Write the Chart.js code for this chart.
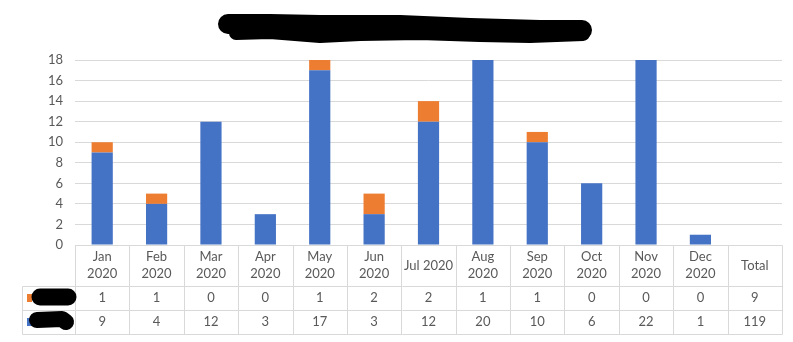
<!DOCTYPE html>
<html>
<head>
<meta charset="utf-8">
<script src="https://cdn.jsdelivr.net/npm/chart.js@4.4.1/dist/chart.umd.min.js"></script>
<style>
  html, body { margin: 0; padding: 0; background: #fff; }
  #wrap { width: 793px; height: 342px; }
</style>
</head>
<body>
<div id="wrap"><canvas id="grafico"></canvas></div>
<script>
// categorias (a ultima coluna "Total" so aparece na tabela)
const meses = [['Jan','2020'],['Feb','2020'],['Mar','2020'],['Apr','2020'],['May','2020'],['Jun','2020'],
               'Jul 2020',['Aug','2020'],['Sep','2020'],['Oct','2020'],['Nov','2020'],['Dec','2020'],'Total'];
const serieLaranja = [1, 1, 0, 0, 1, 2, 2, 1, 1, 0, 0, 0];
const serieAzul    = [9, 4, 12, 3, 17, 3, 12, 20, 10, 6, 22, 1];
const totalLaranja = 9;
const totalAzul = 119;
const ticksY = [0, 2, 4, 6, 8, 10, 12, 14, 16, 18];

const corAzul = '#4472c4';
const corLaranja = '#ed7d31';
const corGrade = '#d9d9d9';
const corTexto = '#595959';
const fonte = 'Lato, "Open Sans", sans-serif';

// linhas da tabela (laranja em cima, azul embaixo)
const linhasTabela = [
    { cor: corLaranja, valores: serieLaranja.concat([totalLaranja]) },
    { cor: corAzul,    valores: serieAzul.concat([totalAzul]) }
];

const tabelaPlugin = {
    id: 'tabela',
    afterDraw(chart) {
        const ctx = chart.ctx;
        const area = chart.chartArea;
        const x = chart.scales.x;
        const colW = (area.right - area.left) / meses.length;
        const esq = 22;
        const y0 = area.bottom;
        const y1 = y0 + 41, y2 = y1 + 24, y3 = y2 + 24;

        ctx.save();
        ctx.strokeStyle = corGrade;
        ctx.lineWidth = 1;
        const linha = (ax, ay, bx, by) => {
            ctx.beginPath();
            ctx.moveTo(Math.round(ax) + 0.5, Math.round(ay) + 0.5);
            ctx.lineTo(Math.round(bx) + 0.5, Math.round(by) + 0.5);
            ctx.stroke();
        };
        linha(area.left, y0, area.right, y0);
        linha(esq, y1, area.right, y1);
        linha(esq, y2, area.right, y2);
        linha(esq, y3, area.right, y3);
        linha(esq, y1, esq, y3);
        for (let i = 0; i <= meses.length; i++) {
            const px = area.left + i * colW;
            linha(px, y0, px, y3);
        }

        ctx.fillStyle = corTexto;
        ctx.font = '13px ' + fonte;
        ctx.textAlign = 'center';
        ctx.textBaseline = 'middle';
        meses.forEach((m, i) => {
            const cx = x.getPixelForValue(i);
            if (Array.isArray(m)) {
                ctx.fillText(m[0], cx, y0 + 12);
                ctx.fillText(m[1], cx, y0 + 29);
            } else {
                ctx.fillText(m, cx, y0 + 21);
            }
        });
        linhasTabela.forEach((l, r) => {
            const cy = (r == 0 ? y1 : y2) + 12;
            l.valores.forEach((v, i) => {
                ctx.fillText(String(v), x.getPixelForValue(i), cy);
            });
            // chave da legenda
            ctx.fillStyle = l.cor;
            ctx.fillRect(27, cy - 4, 5, 8);
            ctx.fillStyle = corTexto;
        });

        // borroes pretos (nomes riscados)
        ctx.strokeStyle = '#000';
        ctx.lineCap = 'round';
        ctx.lineJoin = 'round';
        const borrao = (pts, w) => {
            ctx.lineWidth = w;
            ctx.beginPath();
            ctx.moveTo(pts[0][0], pts[0][1]);
            for (let k = 1; k < pts.length; k++) ctx.lineTo(pts[k][0], pts[k][1]);
            ctx.stroke();
        };
        borrao([[40, 297], [68, 297]], 17);
        borrao([[37, 320], [62, 319], [66, 322]], 16);
        // titulo riscado
        borrao([[228, 24], [270, 24], [320, 25], [400, 25], [470, 28], [540, 30], [582, 30]], 20);
        borrao([[236, 33], [270, 32], [320, 36], [360, 34], [420, 33], [480, 35], [530, 36], [583, 34]], 14);
        ctx.restore();
    }
};

new Chart(document.getElementById('grafico'), {
    type: 'bar',
    data: {
        labels: meses,
        datasets: [
            { label: 'azul', data: serieAzul.concat([null]), backgroundColor: corAzul,
              barPercentage: 0.39, categoryPercentage: 1 },
            { label: 'laranja', data: serieLaranja.concat([null]), backgroundColor: corLaranja,
              barPercentage: 0.39, categoryPercentage: 1 }
        ]
    },
    options: {
        responsive: true,
        maintainAspectRatio: false,
        animation: false,
        layout: { padding: { top: 60, right: 11, bottom: 97, left: 0 } },
        plugins: { legend: { display: false }, tooltip: { enabled: false } },
        scales: {
            x: { stacked: true, display: false },
            y: {
                stacked: true,
                min: 0,
                max: 18,
                afterBuildTicks: (s) => { s.ticks = ticksY.map(v => ({ value: v })); },
                afterFit: (s) => { s.width = 75; },
                border: { display: false },
                grid: { color: corGrade, drawTicks: false },
                ticks: { color: '#595959', padding: 12, font: { size: 13, family: fonte } }
            }
        }
    },
    plugins: [tabelaPlugin]
});
</script>
</body>
</html>
